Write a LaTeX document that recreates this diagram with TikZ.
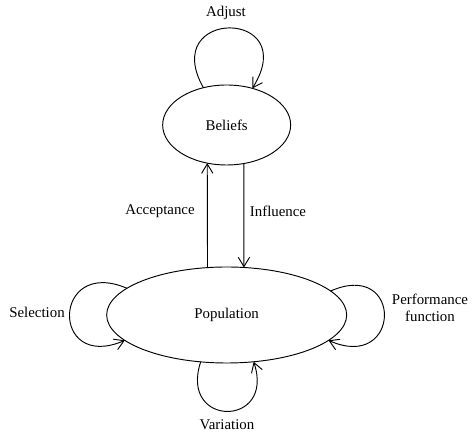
\documentclass[tikz,border=0pt]{standalone}
\usepackage{fontspec}
\setmainfont{Liberation Serif}
\usepackage{tikz}
\usetikzlibrary{shapes.geometric, arrows.meta}
\tikzstyle{space}=[ellipse, draw, line width=0.8pt, inner sep=0pt, outer sep=0pt]
\tikzstyle{link}=[->, line width=0.8pt]

\begin{document}
\begin{tikzpicture}[font=\fontsize{12.7}{14.5}\selectfont, >={Straight Barb[length=2.8mm, width=3.4mm]}]
\useasboundingbox (0,0) rectangle (14.22,13.17);

\node[space, minimum width=3.84cm, minimum height=2.4cm] (bel) at (6.8, 9.42) {Beliefs};
\node[space, minimum width=7.2cm,  minimum height=2.88cm] (pop) at (6.8, 3.72) {Population};

\node (adj) at (6.78, 12.78) {Adjust};
\node (sel) at (1.11, 3.81) {Selection};
\node[align=center] (perf) at (12.9, 3.93) {Performance\\function};
\node (var) at (6.81, 0.42) {Variation};
\node (acc) at (4.8, 6.84) {Acceptance};
\node (inf) at (8.34, 6.84) {Influence};

\draw[link] (pop.112.9) -- (bel.-117.8);
\draw[link] (bel.-66.2) -- (pop.70.31);

\draw[link] (bel.122.6) .. controls +(-1.35,2.4) and +(1.5,2.4) .. (bel.55.6);
\draw[link] (pop.165.2) .. controls +(-2.25,0.96) and +(-2.25,-0.96) .. (pop.-166.9);
\draw[link] (pop.13.9) .. controls +(2.19,0.96) and +(2.19,-0.96) .. (pop.-14.3);
\draw[link] (pop.-119.4) .. controls +(-0.66,-1.98) and +(0.66,-1.98) .. (pop.-60.1);
\end{tikzpicture}
\end{document}
